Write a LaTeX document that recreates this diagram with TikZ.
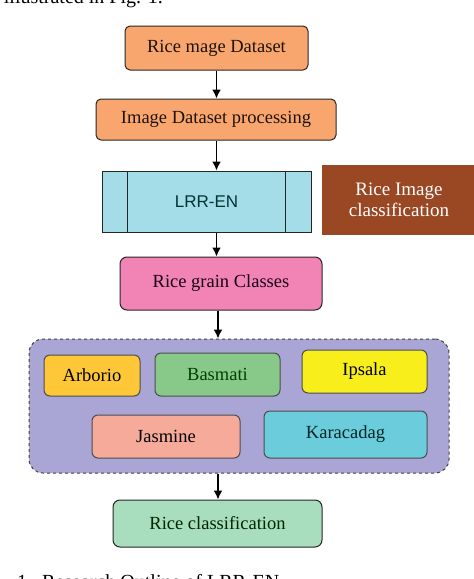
\documentclass[tikz,border=0pt]{standalone}
\usepackage{fontspec}
\setmainfont{Liberation Serif}
\newfontfamily\lrrfont{Liberation Sans}
\usetikzlibrary{arrows.meta}
\definecolor{orangebox}{HTML}{F9A66E}
\definecolor{lrrblue}{HTML}{A4DDE8}
\definecolor{brownbox}{HTML}{9A4824}
\definecolor{pinkbox}{HTML}{F283B5}
\definecolor{groupfill}{HTML}{A9A6D6}
\definecolor{arboriofill}{HTML}{FDC737}
\definecolor{basmatifill}{HTML}{88C98A}
\definecolor{ipsalafill}{HTML}{F7EE1C}
\definecolor{jasminefill}{HTML}{F6AA9A}
\definecolor{karafill}{HTML}{6BCCDC}
\definecolor{resultfill}{HTML}{A8DDBE}
\tikzset{
	stage/.style={draw=black!85, line width=1pt, rounded corners=5pt, inner sep=0pt, font=\fontsize{18.5}{21}\selectfont},
	grain/.style={stage, draw=black!70, rounded corners=6pt},
	flow/.style={-{Latex[length=9pt,width=9pt]}, line width=1.6pt}
}
\begin{document}
\begin{tikzpicture}[x=1pt, y=-1pt]
	\useasboundingbox (0,0) rectangle (474,579);
	\clip (0,0) rectangle (474,579);
	\node[anchor=base east, inner sep=0pt, font=\fontsize{20}{22}\selectfont] (intro) at (163,3) {illustrated in Fig. 1.};
	\node[stage, fill=orangebox, text=black!85!brown, minimum width=183pt, minimum height=44pt] (dataset) at (216.5,48) {Rice mage Dataset};
	\node[stage, fill=orangebox, text=black!85!brown, minimum width=240pt, minimum height=41pt] (prep) at (216,119.5) {Image Dataset processing};
	\node[draw=black!85, line width=1pt, fill=lrrblue, text=teal!40!black, inner sep=0pt, minimum width=209pt, minimum height=61pt, font=\lrrfont\fontsize{17}{20}\selectfont] (lrr) at (206.5,201.5) {LRR-EN};
	\draw[line width=1pt, black!85] ([xshift=26pt]lrr.north west) -- ([xshift=26pt]lrr.south west);
	\draw[line width=1pt, black!85] ([xshift=-26pt]lrr.north east) -- ([xshift=-26pt]lrr.south east);
	\node[fill=brownbox, text=white, align=center, inner sep=0pt, minimum width=154pt, minimum height=70pt, font=\fontsize{19}{21}\selectfont] (task) at (399,200) {Rice Image\\classification};
	\node[stage, fill=pinkbox, text=black!80!violet, rounded corners=7pt, minimum width=202pt, minimum height=53pt] (classes) at (221,283.5) {Rice grain Classes};
	% the five rice varieties
	\node[draw=black!75, dashed, line width=1pt, fill=groupfill, rounded corners=14pt, minimum width=420pt, minimum height=134pt] (group) at (239,406) {};
	\node[grain, fill=arboriofill, minimum width=96pt, minimum height=41pt] (arborio) at (92,375.5) {Arborio};
	\node[grain, fill=basmatifill, text=green!25!black, minimum width=125pt, minimum height=43pt] (basmati) at (217.5,374.5) {Basmati};
	\node[grain, fill=ipsalafill, minimum width=125pt, minimum height=43pt] (ipsala) at (364.5,371.5) {Ipsala};
	\node[grain, fill=jasminefill, minimum width=148pt, minimum height=43pt] (jasmine) at (166,436.5) {Jasmine};
	\node[grain, fill=karafill, text=teal!30!black, minimum width=163pt, minimum height=47pt] (karacadag) at (345.5,434.5) {Karacadag};
	\node[stage, fill=resultfill, text=black!85!green, rounded corners=7pt, minimum width=209pt, minimum height=47pt] (result) at (217.5,523.5) {Rice classification};
	\node[anchor=base west, inner sep=0pt, font=\fontsize{20}{22}\selectfont] (caption) at (17,588) {1.\ \ Research Outline of LRR-EN};
	\draw[flow] (dataset.south) -- (dataset.south |- prep.north);
	\draw[flow] (prep.south -| dataset.south) -- (lrr.north -| dataset.south);
	\draw[flow] (lrr.south -| dataset.south) -- (classes.north -| dataset.south);
	\draw[flow] ([xshift=1.5pt]classes.south -| dataset.south) -- ([xshift=1.5pt]group.north -| dataset.south);
	\draw[flow] ([xshift=1.5pt]group.south -| dataset.south) -- ([xshift=1.5pt]result.north -| dataset.south);
\end{tikzpicture}
\end{document}
